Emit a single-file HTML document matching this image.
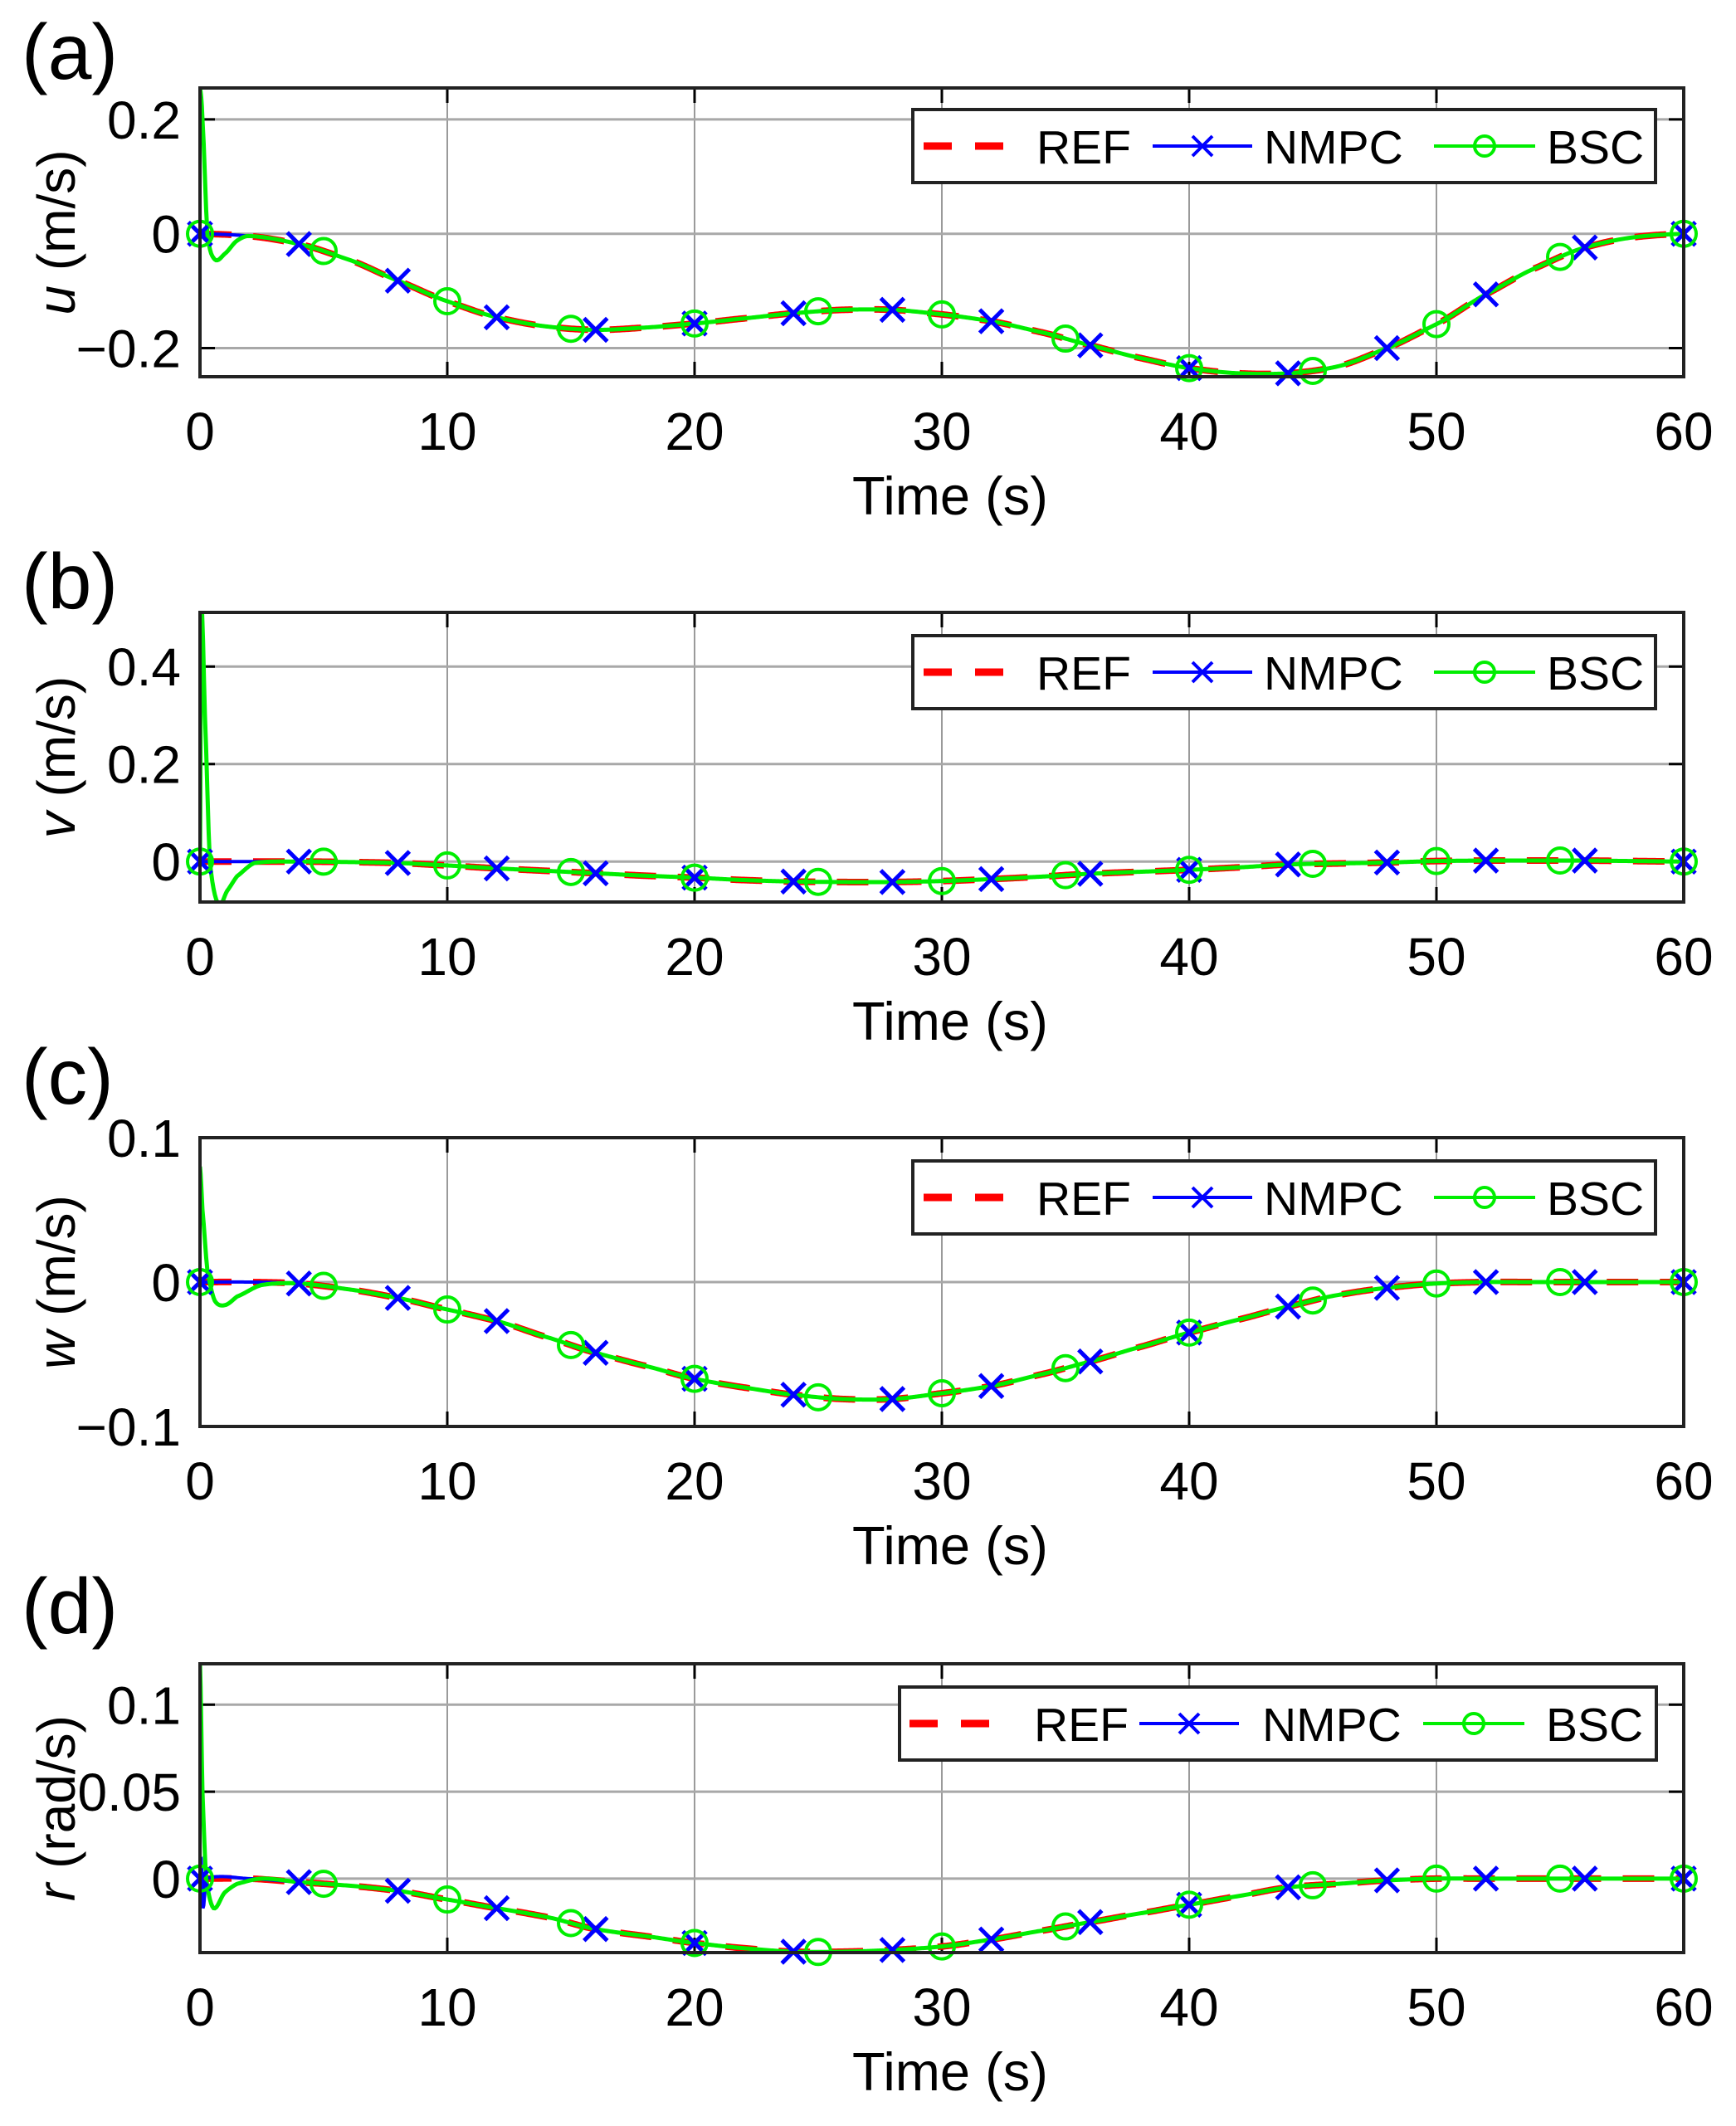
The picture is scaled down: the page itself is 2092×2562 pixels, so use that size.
<!DOCTYPE html>
<html><head><meta charset="utf-8"><title>Velocity tracking</title>
<style>html,body{margin:0;padding:0;background:#fff}svg{display:block}text{font-family:"Liberation Sans",Arial,sans-serif;fill:#000}</style>
</head><body>
<svg id="fig" width="2092" height="2562" viewBox="0 0 2092 2562" xmlns="http://www.w3.org/2000/svg"></svg>
<script>
// ---------- data ----------
const refT = [0,2,4,6,8,10,12,14,16,18,20,22,24,26,28,30,32,34,36,38,40,42,44,46,48,50,52,54,56,58,60];
const uRef = [0,-0.004,-0.018,-0.045,-0.082,-0.118,-0.146,-0.162,-0.168,-0.164,-0.157,-0.148,-0.139,-0.133,-0.133,-0.141,-0.153,-0.172,-0.195,-0.217,-0.235,-0.244,-0.244,-0.232,-0.2,-0.158,-0.106,-0.06,-0.024,-0.006,0];
const vRef = [0,0,0,-0.001,-0.003,-0.008,-0.014,-0.019,-0.024,-0.029,-0.033,-0.038,-0.041,-0.042,-0.042,-0.040,-0.036,-0.031,-0.025,-0.021,-0.017,-0.012,-0.006,-0.004,-0.002,0.001,0.002,0.002,0.002,0.001,0];
const wRef = [0,0,-0.001,-0.005,-0.011,-0.019,-0.027,-0.038,-0.049,-0.058,-0.067,-0.073,-0.078,-0.081,-0.081,-0.077,-0.072,-0.064,-0.055,-0.045,-0.035,-0.026,-0.017,-0.009,-0.004,-0.001,0,0,0,0,0];
const rRef = [0,0,-0.002,-0.004,-0.007,-0.012,-0.017,-0.022,-0.029,-0.033,-0.037,-0.040,-0.042,-0.042,-0.041,-0.039,-0.035,-0.030,-0.025,-0.020,-0.015,-0.010,-0.005,-0.003,-0.001,0,0,0,0,0,0];

const nmpcT = refT;
const uNmpc = uRef.slice(); const vNmpc = vRef.slice(); const wNmpc = wRef.slice();
const rNmpcT = [0,0.05,0.12,0.25,2,4,6,8,10,12,14,16,18,20,22,24,26,28,30,32,34,36,38,40,42,44,46,48,50,52,54,56,58,60];
const rNmpc = [0,0.01,-0.017,0,0,-0.002,-0.004,-0.007,-0.012,-0.017,-0.022,-0.029,-0.033,-0.037,-0.040,-0.042,-0.042,-0.041,-0.039,-0.035,-0.030,-0.025,-0.020,-0.015,-0.010,-0.005,-0.003,-0.001,0,0,0,0,0,0];

const uBscT = [0,0.1,0.3,0.6,1.0,1.5,2.0,4,6,8,10,12,14,16,18,20,22,24,26,28,30,32,34,36,38,40,42,44,46,48,50,52,54,56,58,60];
const uBsc = [0.255,0.2,0,-0.045,-0.035,-0.012,-0.004,-0.018,-0.045,-0.082,-0.118,-0.146,-0.162,-0.168,-0.164,-0.157,-0.148,-0.139,-0.133,-0.133,-0.141,-0.153,-0.172,-0.195,-0.217,-0.235,-0.244,-0.244,-0.232,-0.2,-0.158,-0.106,-0.06,-0.024,-0.006,0];
const vBscT = [0,0.05,0.2,0.4,0.75,1.1,1.5,2.2,4,6,8,10,12,14,16,18,20,22,24,26,28,30,32,34,36,38,40,42,44,46,48,50,52,54,56,58,60];
const vBsc = [0,0.51,0.3,0,-0.088,-0.06,-0.03,-0.003,0,-0.001,-0.003,-0.008,-0.014,-0.019,-0.024,-0.029,-0.033,-0.038,-0.041,-0.042,-0.042,-0.040,-0.036,-0.031,-0.025,-0.021,-0.017,-0.012,-0.006,-0.004,-0.002,0.001,0.002,0.002,0.002,0.001,0];
const wBscT = [0,0.1,0.3,0.6,1.0,1.5,2.5,4,6,8,10,12,14,16,18,20,22,24,26,28,30,32,34,36,38,40,42,44,46,48,50,52,54,56,58,60];
const wBsc = [0.08,0.05,0.008,-0.013,-0.016,-0.01,-0.002,-0.001,-0.005,-0.011,-0.019,-0.027,-0.038,-0.049,-0.058,-0.067,-0.073,-0.078,-0.081,-0.081,-0.077,-0.072,-0.064,-0.055,-0.045,-0.035,-0.026,-0.017,-0.009,-0.004,-0.001,0,0,0,0,0];
const rBscT = [0,0.1,0.25,0.55,1.0,1.5,2.5,4,6,8,10,12,14,16,18,20,22,24,26,28,30,32,34,36,38,40,42,44,46,48,50,52,54,56,58,60];
const rBsc = [0.124,0.05,0,-0.017,-0.008,-0.003,0,-0.002,-0.004,-0.007,-0.012,-0.017,-0.022,-0.029,-0.033,-0.037,-0.040,-0.042,-0.042,-0.041,-0.039,-0.035,-0.030,-0.025,-0.020,-0.015,-0.010,-0.005,-0.003,-0.001,0,0,0,0,0,0];

const xTicks = [0,10,20,30,40,50,60];
const xTickLabels = ["0","10","20","30","40","50","60"];
const uTicks = [-0.2,0,0.2]; const uTickLabels = ["\u22120.2","0","0.2"];
const vTicks = [0,0.2,0.4]; const vTickLabels = ["0","0.2","0.4"];
const wTicks = [-0.1,0,0.1]; const wTickLabels = ["\u22120.1","0","0.1"];
const rTicks = [0,0.05,0.1]; const rTickLabels = ["0","0.05","0.1"];
const nmpcMarkT = [0,4,8,12,16,20,24,28,32,36,40,44,48,52,56,60];
const bscMarkT = [0,5,10,15,20,25,30,35,40,45,50,55,60];

// ---------- helpers ----------
const NS = "http://www.w3.org/2000/svg";
const svg = document.getElementById('fig');
function mk(tag, attrs, parent) { const e = document.createElementNS(NS, tag); for (const k in attrs) e.setAttribute(k, attrs[k]); (parent || svg).appendChild(e); return e; }
function evalSpline(ts, vs, t) {
  let i = 0; while (i < ts.length - 2 && t > ts[i + 1]) i++;
  const t0 = ts[i], t1 = ts[i + 1]; const s = (t - t0) / (t1 - t0);
  const p0 = vs[Math.max(i - 1, 0)], p1 = vs[i], p2 = vs[i + 1], p3 = vs[Math.min(i + 2, vs.length - 1)];
  const m1 = (p2 - p0) / 2 * 0.9, m2 = (p3 - p1) / 2 * 0.9;
  const h00 = 2*s*s*s - 3*s*s + 1, h10 = s*s*s - 2*s*s + s, h01 = -2*s*s*s + 3*s*s, h11 = s*s*s - s*s;
  return h00*p1 + h10*m1 + h01*p2 + h11*m2;
}
const L = 241, R = 2029;
const xs = t => L + (t / 60) * (R - L);

const panels = [
  {id:'a', top:106, bot:454, lab:95, ymin:-0.25, ymax:0.255, ticks:uTicks, tl:uTickLabels, ylab:'u', unit:' (m/s)', ref:[refT,uRef], nm:[nmpcT,uNmpc], bs:[uBscT,uBsc], leg:{x:1100,y:132,w:895,h:88,off:[13,149,289,423,628,764]}},
  {id:'b', top:738, bot:1087, lab:733, ymin:-0.083, ymax:0.511, ticks:vTicks, tl:vTickLabels, ylab:'v', unit:' (m/s)', ref:[refT,vRef], nm:[nmpcT,vNmpc], bs:[vBscT,vBsc], leg:{x:1100,y:766,w:895,h:88,off:[13,149,289,423,628,764]}},
  {id:'c', top:1371, bot:1719, lab:1330, ymin:-0.1, ymax:0.1, ticks:wTicks, tl:wTickLabels, ylab:'w', unit:' (m/s)', ref:[refT,wRef], nm:[nmpcT,wNmpc], bs:[wBscT,wBsc], leg:{x:1100,y:1399,w:895,h:88,off:[13,149,289,423,628,764]}},
  {id:'d', top:2005, bot:2353, lab:1968, ymin:-0.0425, ymax:0.1235, ticks:rTicks, tl:rTickLabels, ylab:'r', unit:' (rad/s)', ref:[refT,rRef], nm:[rNmpcT,rNmpc], bs:[rBscT,rBsc], leg:{x:1084,y:2033,w:912,h:88,off:[12,162,289,437,631,779]}}
];

panels.forEach(p => {
  const g = mk('g', {});
  
  
  const ys = v => p.bot - (v - p.ymin) / (p.ymax - p.ymin) * (p.bot - p.top);
  const clipId = 'clip' + p.id;
  const cp = mk('clipPath', {id: clipId}, g); mk('rect', {x: L, y: p.top, width: R - L, height: p.bot - p.top}, cp);
  xTicks.forEach(t => { const e = mk('line', {x1: xs(t), x2: xs(t), y1: p.top, y2: p.bot, stroke: '#9a9a9a', 'stroke-width': 2}, g);   });
  p.ticks.forEach(v => { const e = mk('line', {x1: L, x2: R, y1: ys(v), y2: ys(v), stroke: '#a8a8a8', 'stroke-width': 3}, g);   });
  xTicks.forEach(t => { mk('line', {x1: xs(t), x2: xs(t), y1: p.bot, y2: p.bot - 18, stroke: '#000', 'stroke-width': 3}, g); mk('line', {x1: xs(t), x2: xs(t), y1: p.top, y2: p.top + 18, stroke: '#000', 'stroke-width': 3}, g); });
  p.ticks.forEach(v => { mk('line', {x1: L, x2: L + 18, y1: ys(v), y2: ys(v), stroke: '#000', 'stroke-width': 3}, g); mk('line', {x1: R, x2: R - 18, y1: ys(v), y2: ys(v), stroke: '#000', 'stroke-width': 3}, g); });
  xTicks.forEach((t, i) => { const e = mk('text', {x: xs(t), y: p.bot + 88, 'font-size': 64, 'text-anchor': 'middle'}, g); e.textContent = xTickLabels[i];   });
  p.ticks.forEach((v, i) => { const e = mk('text', {x: 218, y: ys(v) + 23, 'font-size': 64, 'text-anchor': 'end'}, g); e.textContent = p.tl[i];   });
  const xt = mk('text', {x: (L + R) / 2 + 10, y: p.bot + 166, 'font-size': 65, 'text-anchor': 'middle'}, g); xt.textContent = 'Time (s)';
   
  const cy = (p.top + p.bot) / 2;
  const yt = mk('text', {x: 0, y: 0, 'font-size': 64, 'text-anchor': 'middle', transform: `translate(90,${cy}) rotate(-90)`}, g);
  const ti = mk('tspan', {'font-style': 'italic'}, yt); ti.textContent = p.ylab;
  const tu = mk('tspan', {}, yt); tu.textContent = p.unit;
   
  const pl = mk('text', {x: 26, y: p.lab, 'font-size': 95}, g); pl.textContent = '(' + p.id + ')';
   
  const series = mk('g', {'clip-path': `url(#${clipId})`}, g);
  function densePath(ts, vs) {
    let d = ''; let first = true;
    for (let i = 0; i < ts.length - 1; i++) {
      const n = Math.max(4, Math.round((ts[i + 1] - ts[i]) * 20));
      for (let k = (i === 0 ? 0 : 1); k <= n; k++) {
        const t = ts[i] + (ts[i + 1] - ts[i]) * k / n;
        d += (first ? 'M' : 'L') + xs(t).toFixed(2) + ',' + ys(evalSpline(ts, vs, t)).toFixed(2); first = false;
      }
    }
    return d;
  }
  const refP = mk('path', {d: densePath(p.ref[0], p.ref[1]), fill: 'none', stroke: '#ff0000', 'stroke-width': 8, 'stroke-dasharray': '38 26'}, series);
   
  const nmP = mk('path', {d: densePath(p.nm[0], p.nm[1]), fill: 'none', stroke: '#0000ff', 'stroke-width': 4}, series);
   
  const bsP = mk('path', {d: densePath(p.bs[0], p.bs[1]), fill: 'none', stroke: '#00ee00', 'stroke-width': 5}, series);
   
  nmpcMarkT.forEach(t => {
    const x = xs(t), y = ys(evalSpline(p.nm[0], p.nm[1], t)), s = 14;
    const m = mk('path', {d: `M${x-s},${y-s}L${x+s},${y+s}M${x-s},${y+s}L${x+s},${y-s}`, stroke: '#0000ff', 'stroke-width': 5, fill: 'none'}, g);
     
  });
  bscMarkT.forEach(t => {
    const x = xs(t), y = ys(evalSpline(p.bs[0], p.bs[1], t >= 4 ? t : 4));
    const yy = t === 0 ? ys(0) : y;
    const m = mk('circle', {cx: x, cy: yy, r: 15, stroke: '#00ee00', 'stroke-width': 4, fill: 'none'}, g);
     
  });
  const box = mk('rect', {x: L, y: p.top, width: R - L, height: p.bot - p.top, fill: 'none', stroke: '#222', 'stroke-width': 4}, g);
   
  const lg = p.leg; const ly = lg.y + lg.h / 2;
  const leg = mk('g', {}, g);
   
  mk('rect', {x: lg.x, y: lg.y, width: lg.w, height: lg.h, fill: '#fff', stroke: '#222', 'stroke-width': 4}, leg);
  const o = lg.off;
  const e1 = mk('g', {}, leg);  
  mk('line', {x1: lg.x + o[0], x2: lg.x + o[0] + 96, y1: ly, y2: ly, stroke: '#ff0000', 'stroke-width': 9, 'stroke-dasharray': '34 28'}, e1);
  const t1 = mk('text', {x: lg.x + o[1], y: ly + 21, 'font-size': 57}, e1); t1.textContent = 'REF';
  const e2 = mk('g', {}, leg);  
  mk('line', {x1: lg.x + o[2], x2: lg.x + o[2] + 120, y1: ly, y2: ly, stroke: '#0000ff', 'stroke-width': 4}, e2);
  const mx = lg.x + o[2] + 60;
  mk('path', {d: `M${mx-12},${ly-12}L${mx+12},${ly+12}M${mx-12},${ly+12}L${mx+12},${ly-12}`, stroke: '#0000ff', 'stroke-width': 4}, e2);
  const t2 = mk('text', {x: lg.x + o[3], y: ly + 21, 'font-size': 57}, e2); t2.textContent = 'NMPC';
  const e3 = mk('g', {}, leg);  
  mk('line', {x1: lg.x + o[4], x2: lg.x + o[4] + 122, y1: ly, y2: ly, stroke: '#00ee00', 'stroke-width': 4}, e3);
  mk('circle', {cx: lg.x + o[4] + 61, cy: ly, r: 12, stroke: '#00ee00', 'stroke-width': 4, fill: 'none'}, e3);
  const t3 = mk('text', {x: lg.x + o[5], y: ly + 21, 'font-size': 57}, e3); t3.textContent = 'BSC';
});
</script>
</body></html>
